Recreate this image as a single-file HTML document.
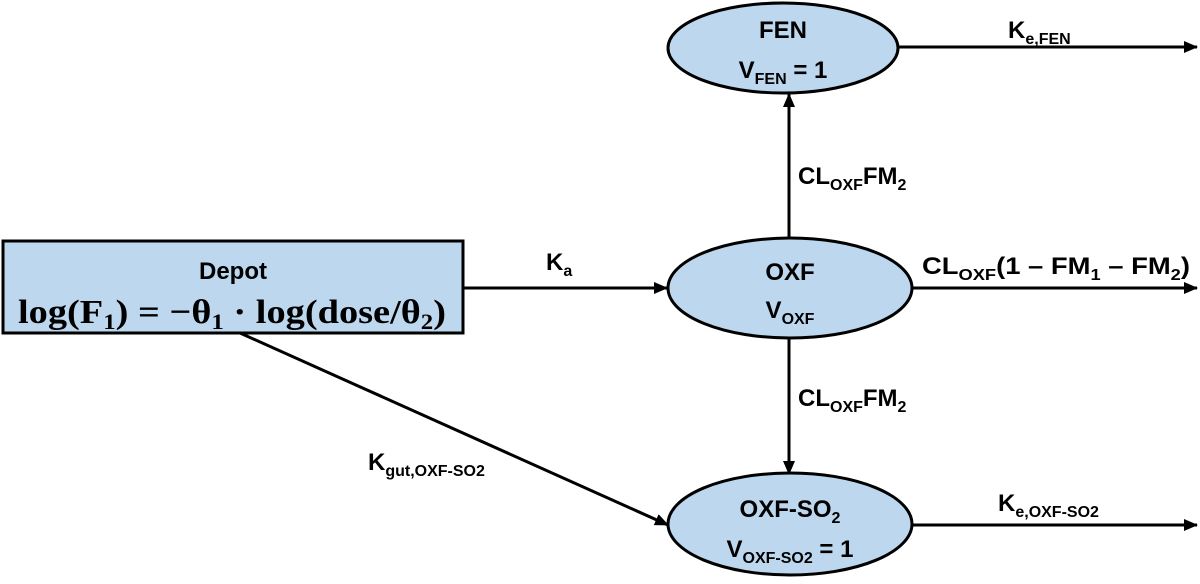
<!DOCTYPE html>
<html><head><meta charset="utf-8"><style>
body{margin:0;background:#fff;width:1200px;height:579px;overflow:hidden}
svg text{font-family:"Liberation Sans",sans-serif;font-weight:bold;fill:#000}
.m{font-family:"Liberation Serif",serif;font-weight:bold}
</style></head><body>
<svg width="1200" height="579" viewBox="0 0 1200 579">
<defs><marker id="a" markerWidth="14" markerHeight="12" refX="13" refY="6" orient="auto" markerUnits="userSpaceOnUse"><path d="M0,0 L14,6 L0,12 z" fill="#000"/></marker></defs>
<g stroke="#000" stroke-width="3" fill="none">
<line x1="897" y1="47" x2="1197" y2="47" marker-end="url(#a)"/>
<line x1="912" y1="288" x2="1197" y2="288" marker-end="url(#a)"/>
<line x1="912" y1="525" x2="1197" y2="525" marker-end="url(#a)"/>
<line x1="789" y1="238" x2="789" y2="94" marker-end="url(#a)"/>
<line x1="789" y1="337" x2="789" y2="474" marker-end="url(#a)"/>
<line x1="463" y1="288" x2="667" y2="288" marker-end="url(#a)"/>
<line x1="240" y1="333" x2="668" y2="525" marker-end="url(#a)"/>
</g>
<rect x="3" y="241" width="460" height="92" fill="#BDD7EE" stroke="#000" stroke-width="3"/>
<ellipse cx="783" cy="48" rx="115" ry="45" fill="#BDD7EE" stroke="#000" stroke-width="3"/>
<ellipse cx="790" cy="288" rx="122" ry="50" fill="#BDD7EE" stroke="#000" stroke-width="3"/>
<ellipse cx="790" cy="524" rx="122" ry="51" fill="#BDD7EE" stroke="#000" stroke-width="3"/>
<text x="233" y="279" font-size="24" text-anchor="middle">Depot</text>
<text x="18" y="323" font-size="34" class="m" textLength="428" lengthAdjust="spacingAndGlyphs">log(F<tspan font-size="22" dy="6">1</tspan><tspan dy="-6">) = −θ</tspan><tspan font-size="22" dy="6">1</tspan><tspan dy="-6"> · log(dose/θ</tspan><tspan font-size="22" dy="6">2</tspan><tspan dy="-6">)</tspan></text>
<text x="783" y="38" font-size="24" text-anchor="middle">FEN</text>
<text x="783" y="78" font-size="24" text-anchor="middle">V<tspan font-size="16" dy="6">FEN</tspan><tspan dy="-6"> = 1</tspan></text>
<text x="790" y="280" font-size="24" text-anchor="middle">OXF</text>
<text x="790" y="318" font-size="24" text-anchor="middle">V<tspan font-size="16" dy="6">OXF</tspan></text>
<text x="790" y="517" font-size="24" text-anchor="middle">OXF-SO<tspan font-size="16" dy="6">2</tspan></text>
<text x="790" y="557" font-size="24" text-anchor="middle">V<tspan font-size="16" dy="6">OXF-SO2</tspan><tspan dy="-6"> = 1</tspan></text>
<text x="1008" y="38" font-size="24">K<tspan font-size="16" dy="6">e,FEN</tspan></text>
<text x="922" y="274" font-size="24" textLength="268" lengthAdjust="spacingAndGlyphs">CL<tspan font-size="16" dy="6">OXF</tspan><tspan dy="-6">(1 – FM</tspan><tspan font-size="16" dy="6">1</tspan><tspan dy="-6"> – FM</tspan><tspan font-size="16" dy="6">2</tspan><tspan dy="-6">)</tspan></text>
<text x="998" y="511" font-size="24">K<tspan font-size="16" dy="6">e,OXF-SO2</tspan></text>
<text x="546" y="270" font-size="24">K<tspan font-size="16" dy="6">a</tspan></text>
<text x="798" y="184" font-size="24">CL<tspan font-size="16" dy="6">OXF</tspan><tspan dy="-6">FM</tspan><tspan font-size="16" dy="6">2</tspan></text>
<text x="798" y="406" font-size="24">CL<tspan font-size="16" dy="6">OXF</tspan><tspan dy="-6">FM</tspan><tspan font-size="16" dy="6">2</tspan></text>
<text x="368" y="470" font-size="24">K<tspan font-size="16" dy="6">gut,OXF-SO2</tspan></text>
</svg>
</body></html>
